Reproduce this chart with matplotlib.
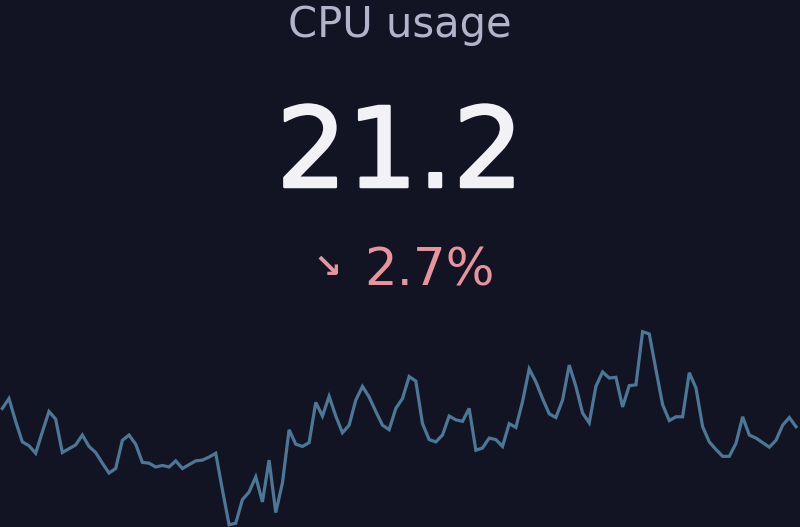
import matplotlib
matplotlib.use("Agg")
import matplotlib.pyplot as plt
import matplotlib.patheffects as pe
import numpy as np

# ---- data ----
title = "CPU usage"
current_value = "21.2"
delta_label = "2.7%"
delta_arrow = "\u2198"

cpu_usage = [
    23.6, 24.9, 21.9, 19.2, 18.7, 17.7, 20.5, 23.2, 22.2, 17.8,
    18.3, 18.8, 20.1, 18.6, 17.8, 16.4, 15.1, 15.7, 19.4, 20.1,
    18.9, 16.5, 16.4, 15.9, 16.1, 15.9, 16.7, 15.7, 16.2, 16.7,
    16.8, 17.2, 17.7, 12.9, 8.3, 8.5, 11.6, 12.6, 14.6, 11.3,
    16.8, 9.9, 13.8, 20.8, 18.9, 18.6, 19.1, 24.4, 22.6, 25.2,
    22.6, 20.4, 21.4, 24.7, 26.5, 25.1, 23.2, 21.4, 20.8, 23.6,
    24.9, 27.8, 27.2, 21.6, 19.5, 19.2, 20.1, 22.6, 22.1, 21.9,
    23.6, 18.1, 18.4, 19.7, 19.5, 18.6, 21.6, 21.1, 24.5, 28.8,
    27.1, 24.9, 22.9, 22.4, 24.7, 29.3, 26.5, 23.0, 21.7, 26.5,
    28.4, 27.6, 27.7, 23.8, 26.6, 26.7, 33.7, 33.4, 28.7, 24.1,
    22.0, 22.5, 22.5, 28.3, 26.3, 21.2, 19.2, 18.2, 17.3, 17.3,
    19.0, 22.5, 20.1, 19.7, 19.1, 18.5, 19.4, 21.4, 22.4, 21.2,
]

# ---- style ----
background_color = "#121423"
title_color = "#b3b3cb"
value_color = "#f1f1f6"
delta_color = "#e8949f"
line_color = "#4c7797"

fig = plt.figure(figsize=(8, 5.27), dpi=100, facecolor=background_color)

fig.text(0.5, 1 - 37 / 527, title, ha="center", va="baseline",
         fontsize=30, color=title_color, family="DejaVu Sans")
fig.text(0.5, 1 - 187 / 527, current_value, ha="center", va="baseline",
         fontsize=80, color=value_color, family="DejaVu Sans",
         path_effects=[pe.withStroke(linewidth=1.8, foreground=value_color)])
fig.text(0.537, 1 - 285 / 527, delta_label, ha="center", va="baseline",
         fontsize=37, color=delta_color, family="DejaVu Sans")
fig.text(0.409, 1 - 277 / 527, delta_arrow, ha="center", va="baseline",
         fontsize=24, color=delta_color, family="DejaVu Sans",
         fontweight="bold")

# sparkline
ax = fig.add_axes([0, 0, 1, 207 / 527])
ax.set_facecolor(background_color)
x = np.arange(len(cpu_usage))
ax.plot(x, cpu_usage, color=line_color, linewidth=2.3,
        solid_joinstyle="miter")
ax.set_xlim(-0.345, 119.6)
ax.set_ylim(8, 8 + 207 / 7.6)
ax.axis("off")

plt.savefig("out.png", dpi=100, facecolor=background_color)
